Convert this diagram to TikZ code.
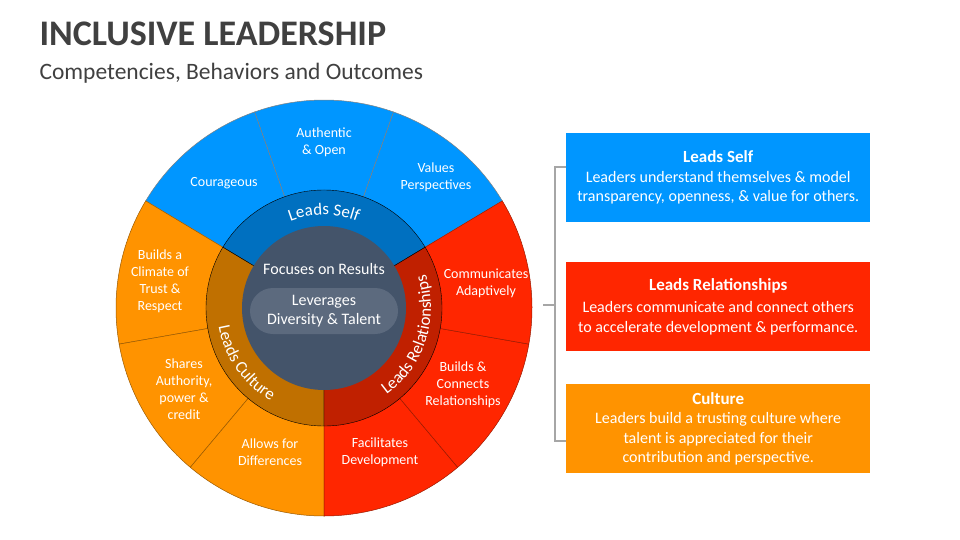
\documentclass[tikz,border=0pt]{standalone}
\usepackage{fontspec}
\setmainfont{Carlito}
\usetikzlibrary{decorations.text}
\definecolor{cblue}{RGB}{0,150,255}
\definecolor{dblue}{RGB}{0,112,192}
\definecolor{cred}{RGB}{255,38,0}
\definecolor{dred}{RGB}{192,32,0}
\definecolor{corange}{RGB}{255,147,0}
\definecolor{dorange}{RGB}{192,112,0}
\definecolor{cgray}{RGB}{68,84,106}
\definecolor{pgray}{RGB}{92,106,126}
\newcommand\mysector[4]{\filldraw[#4] (C) -- ++(#1:#3) arc[start angle=#1,end angle=#2,radius=#3] -- cycle;}
\begin{document}
\begin{tikzpicture}[x=1pt,y=1pt,
  seg/.style={font=\fontsize{14}{17}\selectfont,text=white,align=center},
  boxst/.style={minimum width=304pt,minimum height=89pt,anchor=north west,inner sep=0pt},
  boxtxt/.style={text=white,align=center,font=\fontsize{16}{19.5}\selectfont}]
\useasboundingbox (0,0) rectangle (960,-540);
\coordinate (C) at (324,-308);
% outer
\mysector{31}{70.5}{208}{fill=cblue,draw=black!50,line width=0.5pt}
\mysector{70.5}{109.5}{208}{fill=cblue,draw=black!50,line width=0.5pt}
\mysector{109.5}{149}{208}{fill=cblue,draw=black!50,line width=0.5pt}
\mysector{149}{190}{208}{fill=corange,draw=dorange!80!black,line width=0.5pt}
\mysector{190}{230}{208}{fill=corange,draw=dorange!80!black,line width=0.5pt}
\mysector{230}{270}{208}{fill=corange,draw=dorange!80!black,line width=0.5pt}
\mysector{270}{310}{208}{fill=cred,draw=dred!80!black,line width=0.5pt}
\mysector{310}{350}{208}{fill=cred,draw=dred!80!black,line width=0.5pt}
\mysector{-10}{31}{208}{fill=cred,draw=dred!80!black,line width=0.5pt}
% middle ring
\mysector{31}{149}{118}{fill=dblue}
\mysector{149}{270}{118}{fill=dorange}
\mysector{-90}{31}{118}{fill=dred}
\fill[cgray] (C) circle[radius=82];
\node[fill=pgray,rounded corners=23pt,minimum width=148pt,minimum height=46pt] (pill) at (324,-311) {};
\node[boxtxt,font=\fontsize{16}{19}\selectfont] (lev) at (pill) {Leverages\\Diversity \& Talent};
\node[boxtxt] (foc) at (324,-269) {Focuses on Results};
% ring texts
\path[decorate,decoration={text along path,text align=center,
  text={|\fontsize{17}{17}\selectfont\color{white}|Leads Self}}]
  (C) ++(135:93) arc[start angle=135,end angle=45,radius=93];
\path[decorate,decoration={text along path,text align=center,
  text={|\fontsize{17}{17}\selectfont\color{white}|Leads Culture}}]
  (C) ++(164:107) arc[start angle=164,end angle=266,radius=107];
\path[decorate,decoration={text along path,text align=center,
  text={|\fontsize{17}{17}\selectfont\color{white}|Leads Relationships}}]
  (C) ++(287:107) arc[start angle=287,end angle=397,radius=107];
% segment labels
\node[seg] (s1) at (224,-183) {Courageous};
\node[seg] (s2) at (324,-142) {Authentic\\\& Open};
\node[seg] (s3) at (436,-177) {Values\\Perspectives};
\node[seg] (s4) at (486,-283) {Communicates\\Adaptively};
\node[seg] (s5) at (463,-385) {Builds \&\\Connects\\Relationships};
\node[seg] (s6) at (380,-452) {Facilitates\\Development};
\node[seg] (s7) at (270,-452) {Allows for\\Differences};
\node[seg] (s8) at (184,-389) {Shares\\Authority,\\power \&\\credit};
\node[seg] (s9) at (160,-281) {Builds a\\Climate of\\Trust \&\\Respect};
% title
\node[anchor=west,font=\fontsize{36}{36}\selectfont\bfseries,text=black!75] (title) at (36,-34) {INCLUSIVE LEADERSHIP};
\node[anchor=west,font=\fontsize{23.5}{24}\selectfont,text=black!75] (sub) at (36,-73) {Competencies, Behaviors and Outcomes};
% boxes
\node[boxst,fill=cblue] (b1) at (566,-133) {};
\node[boxst,fill=cred] (b2) at (566,-262) {};
\node[boxst,fill=corange] (b3) at (566,-384) {};
\node[boxtxt] (t1) at (b1.center) {\textbf{\fontsize{17}{19}\selectfont Leads Self}\\Leaders understand themselves \& model\\transparency, openness, \& value for others.};
\node[boxtxt] (t2) at (b2.center) {\textbf{\fontsize{17}{19}\selectfont Leads Relationships}\\[3pt]Leaders communicate and connect others\\to accelerate development \& performance.};
\node[boxtxt] (t3) at (b3.center) {\textbf{\fontsize{17}{19}\selectfont Culture}\\Leaders build a trusting culture where\\talent is appreciated for their\\contribution and perspective.};
% bracket
\coordinate (k) at (543,-305);
\draw[gray!70,line width=1.5pt] (b1.west|-0,-167) -- (555,-167) -- (555,-441) -- (b3.west|-0,-441);
\draw[gray!70,line width=1.5pt] (k) -- (555,-305);
\end{tikzpicture}
\end{document}
